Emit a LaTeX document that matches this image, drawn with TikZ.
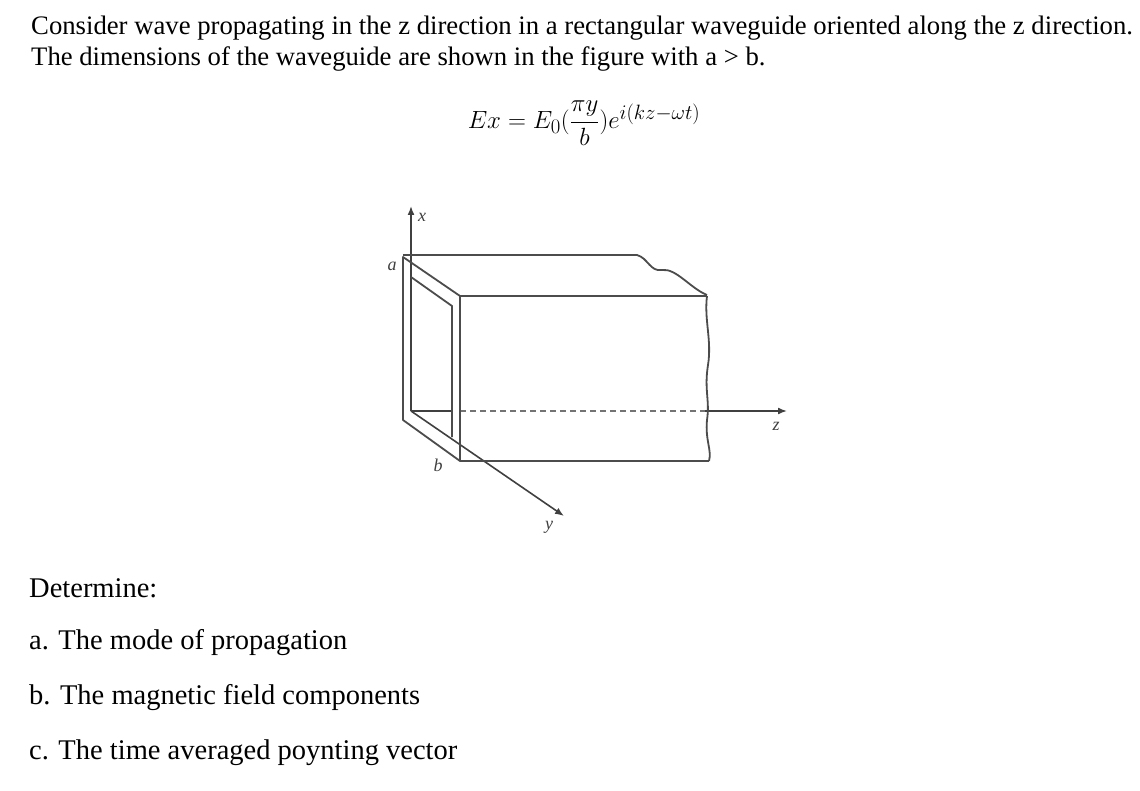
\documentclass[tikz,border=0pt]{standalone}
\usepackage{fontspec}
\setmainfont{Liberation Serif}
\usepackage{amsmath}
\usetikzlibrary{arrows.meta}
\begin{document}
\begin{tikzpicture}[x=1pt,y=-1pt,
  txt/.style={anchor=west,inner sep=0pt,font=\fontsize{26.7}{30}\selectfont},
  txtb/.style={anchor=west,inner sep=0pt,font=\fontsize{28.5}{32}\selectfont},
  lbl/.style={inner sep=0pt,font=\fontsize{18}{20}\selectfont\itshape,text=black!75},
  ln/.style={draw=black!70,line width=1.8pt,line join=round},
  ax/.style={draw=black!75,line width=1.6pt,-{Latex[length=9pt,width=7pt]}}]
\useasboundingbox (0,0) rectangle (1140,791);
\node[txt] (t1) at (31,28) {Consider wave propagating in the z direction in a rectangular waveguide oriented along the z direction.};
\node[txt] (t2) at (31,59) {The dimensions of the waveguide are shown in the figure with a > b.};
\node[inner sep=0pt,font=\fontsize{29.5}{32}\selectfont] (eq) at (584,123) {$Ex = E_0(\dfrac{\pi y}{b})e^{i(kz-\omega t)}$};
% axes
\coordinate (O) at (411,411);
\coordinate (Xe) at (411,206);
\coordinate (Ye) at (564,516);
\coordinate (Ze) at (787,411);
\draw[ax] (O) -- (Xe);
\draw[ax] (O) -- (Ye);
\draw[draw=black!75,line width=1.6pt] (O) -- (452,411);
\draw[draw=black!55,line width=1.5pt,dash pattern=on 6pt off 4pt] (460,411) -- (705,411);
\draw[ax] (705,411) -- (Ze);
% outer frame
\draw[ln] (403,257) -- (403,420) -- (460,461) -- (460,296) -- cycle;
% inner frame
\draw[ln] (411,277) -- (452,306) -- (452,437);
% guide
\draw[ln] (403,255) -- (637,255) .. controls (648,258) and (650,272) .. (662,270)
   .. controls (676,268) and (690,288) .. (707,295);
\draw[ln] (460,296) -- (707,296);
\draw[ln] (460,461) -- (709,461);
\draw[ln] (707,296) .. controls (704,320) and (712,340) .. (708,365)
   .. controls (704,390) and (710,400) .. (707,420) .. controls (705,440) and (712,450) .. (709,461);
% labels
\node[lbl] (lx) at (422,217) {x};
\node[lbl] (la) at (392,266) {a};
\node[lbl] (lb) at (438,465) {b};
\node[lbl] (lz) at (776,426) {z};
\node[lbl] (ly) at (549,527) {y};
% bottom
\node[txtb] (d) at (29,588) {Determine:};
\node[txtb] (qa) at (29,643) {a. The mode of propagation};
\node[txtb] (qb) at (29,698) {b. The magnetic field components};
\node[txtb] (qc) at (29,753) {c. The time averaged poynting vector};
\end{tikzpicture}
\end{document}
